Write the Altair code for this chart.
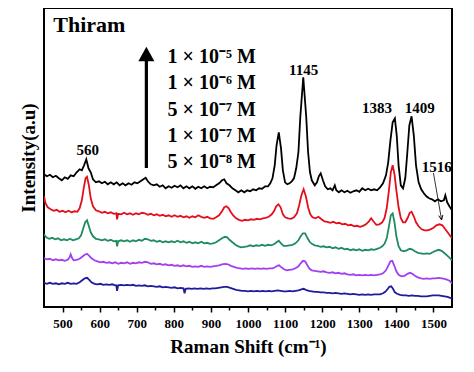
import altair as alt
import pandas as pd

# ---------------- data ----------------
series_names = ["1 × 10⁻⁵ M", "1 × 10⁻⁶ M", "5 × 10⁻⁷ M", "1 × 10⁻⁷ M", "5 × 10⁻⁸ M"]
series_colors = ["#000000", "#e3101c", "#1f8c5f", "#a040f0", "#1c1c9c"]

black_shift = [450,458,466,474,482,490,498,506,514,522,530,538,546,552,558,564,570,576,582,590,598,606,614,622,630,638,646,654,662,670,678,686,694,702,710,718,724,730,738,746,754,762,770,778,786,794,802,810,818,826,834,842,850,858,866,874,882,890,898,906,914,922,930,936,942,950,958,966,974,982,990,998,1006,1014,1022,1030,1038,1046,1054,1060,1066,1072,1077,1083,1089,1094,1100,1106,1112,1118,1124,1130,1136,1141,1149,1157,1162,1167,1172,1180,1186,1191,1196,1202,1208,1215,1222,1228,1234,1238,1245,1252,1260,1268,1276,1284,1292,1300,1308,1316,1324,1332,1340,1348,1356,1364,1372,1378,1384,1390,1396,1401,1406,1412,1418,1424,1429,1435,1441,1447,1453,1460,1467,1474,1481,1488,1496,1504,1512,1520,1528,1532,1537,1543,1550]
black_int = [132.7,130.7,132.2,129.7,131.2,128.7,126.7,129.7,128.2,131.7,130.7,134.7,137.7,136.7,141.7,147.7,138.7,134.7,127.7,124.7,125.7,123.7,125.2,122.7,124.7,122.7,124.7,121.7,123.7,121.7,123.7,122.2,124.7,123.7,125.7,127.7,129.2,125.7,122.7,121.7,122.7,120.2,121.7,118.7,120.7,119.2,121.2,119.7,121.7,118.7,120.7,118.7,120.7,118.2,120.2,118.7,120.7,118.7,120.2,119.7,121.7,123.7,126.7,127.7,123.7,121.7,118.7,116.7,114.7,116.7,114.7,116.7,115.7,117.7,116.7,118.7,118.2,120.7,120.7,123.7,128.7,141.7,161.7,174.7,158.7,136.7,124.7,122.7,123.7,125.7,128.7,138.7,155.0,190.0,229.7,190.0,155.0,135.0,126.7,121.7,124.7,130.7,133.7,126.7,120.7,117.7,118.7,116.7,121.7,116.7,114.7,116.7,114.7,116.2,114.2,115.7,116.7,115.2,118.7,116.7,118.2,116.7,117.7,116.7,119.7,123.7,131.7,144.7,166.7,184.7,188.7,171.7,141.7,121.7,118.7,128.7,151.7,181.7,190.7,171.7,141.7,124.7,117.7,113.7,110.7,108.7,107.7,105.7,107.7,105.7,106.7,111.7,104.7,100.7,96.7]

red_shift = [450,454,460,468,476,484,492,500,508,516,524,532,540,546,552,557,562,566,571,576,582,590,598,606,614,622,630,638,645,647,650,658,666,674,682,690,698,706,714,722,730,738,746,754,762,770,778,786,794,802,810,818,826,834,842,850,858,866,874,882,890,898,906,914,922,930,936,942,948,954,960,968,976,984,992,1000,1008,1016,1024,1032,1040,1048,1056,1064,1070,1076,1082,1088,1094,1100,1108,1116,1124,1132,1138,1144,1150,1156,1162,1168,1174,1182,1190,1198,1206,1214,1222,1230,1238,1246,1254,1262,1270,1278,1286,1294,1302,1310,1318,1326,1332,1338,1346,1354,1362,1368,1374,1380,1385,1390,1395,1400,1406,1412,1418,1424,1430,1436,1441,1447,1453,1460,1468,1476,1484,1492,1500,1508,1516,1524,1532,1540,1546,1550]
red_int = [110.7,103.7,99.7,97.7,96.2,97.2,95.2,96.2,94.7,96.2,94.7,95.7,95.2,98.7,106.7,118.7,128.7,130.2,121.7,108.7,100.7,96.7,95.7,94.2,95.2,93.7,94.7,93.2,93.7,87.7,93.2,92.7,94.2,92.7,93.7,92.2,93.7,92.7,94.2,93.7,92.2,93.2,91.7,92.7,91.2,92.2,90.7,91.7,90.2,91.7,90.2,91.2,89.7,90.7,89.2,90.7,89.7,91.7,90.2,89.2,90.2,88.7,88.2,89.7,91.7,95.7,99.7,100.7,98.7,94.7,91.7,88.7,87.2,86.2,87.2,86.7,87.7,87.2,88.2,87.7,88.7,89.2,90.2,92.7,95.7,100.7,102.7,99.7,92.7,89.7,88.7,88.2,89.7,93.7,101.7,111.7,117.7,110.7,99.7,92.7,89.7,88.7,90.2,87.7,85.7,85.2,84.2,85.2,83.7,84.2,82.7,83.2,81.7,82.2,80.7,81.2,80.2,81.2,82.7,85.7,88.7,85.7,82.2,82.7,84.7,88.7,98.7,116.7,134.7,141.7,132.7,116.7,99.7,88.7,84.7,84.7,88.7,94.2,95.2,90.7,84.7,80.7,77.7,76.7,76.7,77.7,79.2,81.7,82.7,81.7,77.7,73.7,70.7,68.7]

green_shift = [450,456,464,472,480,488,496,504,512,520,528,536,544,550,556,561,566,571,576,582,590,598,606,614,622,630,638,645,647,650,658,666,674,682,690,698,706,714,722,730,738,746,754,762,770,778,786,794,802,810,818,826,834,842,850,858,866,874,882,890,898,906,914,922,930,938,944,950,958,966,974,982,990,998,1006,1014,1022,1030,1038,1046,1054,1062,1070,1077,1083,1089,1096,1104,1112,1120,1128,1136,1142,1148,1154,1160,1166,1172,1180,1188,1196,1204,1212,1220,1228,1236,1244,1252,1260,1268,1276,1284,1292,1300,1308,1316,1324,1332,1340,1348,1356,1362,1368,1374,1380,1385,1390,1395,1400,1406,1412,1420,1428,1436,1442,1450,1458,1466,1474,1482,1490,1498,1506,1514,1522,1530,1538,1545,1550]
green_int = [72.7,69.7,68.2,69.2,67.7,68.7,66.7,67.7,66.7,68.2,66.7,67.7,68.7,71.7,78.7,84.7,86.7,80.7,74.7,70.7,68.2,67.7,66.7,67.7,66.2,67.2,65.7,66.2,60.7,65.7,66.7,65.7,66.7,65.2,66.7,65.7,67.2,66.2,68.2,67.7,66.2,66.7,65.2,66.2,64.7,65.7,64.7,65.7,64.7,66.2,64.7,65.7,64.2,65.2,63.7,64.7,63.7,65.2,63.7,64.2,63.2,63.7,64.7,66.7,68.7,70.2,69.7,67.2,64.7,62.2,60.7,59.7,60.2,60.7,61.7,60.7,61.7,61.2,62.2,61.2,62.2,61.7,62.7,64.7,66.2,63.7,61.2,61.2,61.7,62.2,63.7,66.7,70.7,73.7,73.7,69.2,65.2,63.2,61.7,61.2,60.2,60.7,59.7,60.2,58.7,59.7,58.2,59.2,57.7,58.2,56.7,57.7,56.7,57.7,56.2,57.2,56.7,57.7,57.2,58.2,59.2,60.7,63.2,68.7,80.7,91.7,93.7,84.7,70.7,60.7,56.7,55.7,56.7,58.2,57.7,55.7,54.2,53.7,53.2,53.7,53.2,54.7,56.2,57.2,56.2,53.7,51.2,48.7,46.7]

purple_shift = [450,458,466,474,482,490,498,506,514,519,522,526,530,538,546,553,560,566,572,578,586,594,602,610,618,626,634,642,650,658,666,674,682,690,698,706,714,722,730,738,746,754,762,770,778,786,794,802,810,818,826,834,842,850,858,866,874,882,890,898,906,914,922,930,938,946,954,962,970,978,986,994,1002,1010,1018,1026,1034,1042,1050,1058,1066,1073,1079,1084,1090,1097,1104,1112,1120,1128,1136,1142,1148,1154,1160,1166,1172,1180,1188,1196,1204,1212,1220,1228,1236,1244,1252,1260,1268,1276,1284,1292,1300,1308,1316,1324,1332,1340,1348,1356,1364,1372,1378,1384,1389,1394,1400,1406,1414,1422,1430,1437,1443,1450,1458,1466,1474,1482,1490,1498,1506,1514,1522,1530,1538,1545,1550]
purple_int = [48.7,47.7,48.2,46.7,47.7,46.7,47.2,46.2,47.2,49.7,52.7,48.7,46.7,47.2,48.2,50.2,52.2,53.2,51.2,48.7,46.7,45.7,44.7,45.2,44.2,44.7,43.7,44.7,43.2,44.2,43.7,44.7,43.2,44.2,43.7,44.7,44.2,45.2,44.7,43.2,43.7,42.7,43.2,42.2,42.7,41.7,42.2,41.2,41.7,40.7,41.7,40.7,41.2,40.2,40.7,40.2,41.2,40.2,40.7,40.2,40.7,41.2,41.7,42.7,43.2,42.7,41.2,40.2,39.2,38.7,38.2,38.7,38.2,38.7,38.2,38.7,38.2,38.7,38.2,38.7,38.7,39.7,41.2,41.7,39.7,37.7,36.7,37.2,37.7,38.7,40.7,43.7,46.2,45.7,41.7,38.2,36.7,36.2,35.7,35.2,35.7,34.7,34.2,34.7,33.7,34.2,33.2,33.7,32.7,32.2,32.7,31.7,32.2,31.7,32.2,31.7,32.2,31.7,32.2,32.7,33.7,36.7,41.2,45.7,46.2,41.7,35.7,32.2,30.7,31.2,33.2,34.2,33.2,31.2,29.7,28.7,28.2,28.7,28.2,28.7,28.7,29.2,28.7,28.2,27.2,25.7,23.7]

blue_shift = [450,458,466,474,482,490,498,506,514,522,530,538,546,553,560,566,572,578,586,594,602,610,618,626,634,642,645,647,650,658,666,674,682,690,698,706,714,722,730,738,746,754,762,770,778,786,794,802,810,818,826,829,832,840,848,856,864,872,880,888,896,904,912,920,928,936,944,952,960,968,976,984,992,1000,1008,1016,1024,1032,1040,1048,1056,1064,1072,1080,1088,1096,1104,1112,1120,1128,1136,1144,1150,1156,1164,1172,1180,1188,1196,1204,1212,1220,1228,1236,1244,1252,1260,1268,1276,1284,1292,1300,1308,1316,1324,1332,1340,1348,1356,1364,1370,1376,1381,1386,1391,1396,1402,1410,1418,1426,1434,1442,1450,1458,1466,1474,1482,1490,1498,1506,1514,1522,1530,1538,1545,1550]
blue_int = [24.2,23.2,24.2,23.2,23.7,22.7,23.7,23.2,24.2,23.2,23.7,23.2,24.7,26.7,28.7,29.2,27.2,24.7,23.2,22.7,23.2,22.2,22.7,22.2,22.7,21.7,21.7,16.2,21.7,22.2,21.7,22.2,21.7,22.2,21.2,21.7,21.2,21.7,20.7,21.2,20.7,20.2,20.7,19.7,20.2,19.7,19.2,19.7,18.7,19.2,18.7,13.7,18.2,18.7,18.2,18.7,18.2,18.7,18.2,18.7,18.2,18.7,18.7,19.2,19.7,20.2,20.2,19.2,18.2,17.2,16.7,16.2,16.2,15.7,16.2,15.7,16.2,15.7,16.2,15.7,16.2,15.7,16.2,16.7,16.2,15.7,15.7,16.2,15.7,16.2,16.7,17.7,18.2,17.2,16.2,15.7,15.2,15.2,14.7,14.7,14.2,14.2,13.7,14.2,13.7,13.2,13.7,13.2,12.7,13.2,12.7,12.2,12.7,12.2,12.7,12.2,12.7,12.7,12.7,13.7,15.2,17.7,20.2,20.7,18.2,14.7,13.2,12.2,11.7,11.7,11.2,11.7,11.2,11.2,10.7,10.7,10.7,11.2,11.7,11.7,11.7,11.2,10.7,10.2,9.2,8.2]

peak_text = ["560", "1145", "1383", "1409", "1516"]
peak_text_x = [568, 1150, 1348, 1463, 1509]
peak_text_y = [157, 237, 199, 199, 140]

conc_text_x = 783
conc_text_y = [250, 224, 197, 171, 145]

x_ticks = list(range(500, 1501, 50))

# ---------------- build table ----------------
shifts = [black_shift, red_shift, green_shift, purple_shift, blue_shift]
ints = [black_int, red_int, green_int, purple_int, blue_int]
rows = []
for order, (name, xs, ys) in enumerate(zip(series_names, shifts, ints)):
    assert len(xs) == len(ys), (name, len(xs), len(ys))
    for a, b in zip(xs, ys):
        rows.append({"series": name, "order": order, "shift": a, "intensity": b})
spec_df = pd.DataFrame(rows)

FONT = "Liberation Serif"
xscale = alt.Scale(domain=[450, 1550], nice=False, zero=False)
yscale = alt.Scale(domain=[0, 299], nice=False, zero=False)
xaxis = alt.Axis(
    title="Raman Shift (cm⁻¹)", values=x_ticks, grid=False, domain=False, format="d",
    labelExpr="datum.value % 100 === 0 ? datum.label : ''",
    tickSize={"condition": {"test": "datum.value % 100 === 0", "value": 5}, "value": 3},
    tickColor="black", tickWidth=1.5, labelFont=FONT, labelFontSize=13,
    labelFontWeight="bold", labelColor="black", labelPadding=5,
    titleFont=FONT, titleFontSize=19, titleFontWeight="bold", titleColor="black",
    titlePadding=7, labelFlush=False,
)
yaxis = alt.Axis(
    title="Intensity(a.u)", labels=False, ticks=False, domain=False, grid=False,
    titleFont=FONT, titleFontSize=19, titleFontWeight="bold", titleColor="black",
    titlePadding=6,
)
X = alt.X("shift:Q", scale=xscale, axis=xaxis)
Y = alt.Y("intensity:Q", scale=yscale, axis=yaxis)

lines = alt.Chart(spec_df).mark_line(strokeWidth=1.8, clip=True).encode(
    x=X, y=Y,
    color=alt.Color("series:N", scale=alt.Scale(domain=series_names, range=series_colors), legend=None),
    detail="series:N",
    order=alt.Order("shift:Q"),
)

peak_df = pd.DataFrame({"shift": peak_text_x, "intensity": peak_text_y, "label": peak_text})
peaks = alt.Chart(peak_df).mark_text(font=FONT, fontSize=15, fontWeight="bold", color="black",
                                     baseline="middle", align="center").encode(x=X, y=Y, text="label:N")

conc_df = pd.DataFrame({"shift": [conc_text_x] * 5, "intensity": conc_text_y, "label": series_names})
conc = alt.Chart(conc_df).mark_text(font=FONT, fontSize=20, fontWeight="bold", color="black",
                                    baseline="middle", align="left").encode(x=X, y=Y, text="label:N")

title_df = pd.DataFrame({"shift": [475], "intensity": [282], "label": ["Thiram"]})
title_txt = alt.Chart(title_df).mark_text(font=FONT, fontSize=22, fontWeight="bold", color="black",
                                          baseline="middle", align="left").encode(x=X, y=Y, text="label:N")

arrow_df = pd.DataFrame({"shift": [726], "intensity": [139], "intensity2": [246]})
arrow_line = alt.Chart(arrow_df).mark_rule(strokeWidth=3.2, color="black").encode(
    x=X, y=Y, y2="intensity2:Q")
head_df = pd.DataFrame({"shift": [726], "intensity": [253]})
arrow_head = alt.Chart(head_df).mark_point(
    shape="M0,-0.9L-1,0.9L1,0.9Z", size=256, filled=True, color="black", opacity=1, strokeWidth=0
).encode(x=X, y=Y)

call_df = pd.DataFrame({"shift": [1500], "intensity": [134], "shift2": [1522], "intensity2": [87]})
call_line = alt.Chart(call_df).mark_rule(strokeWidth=0.8, color="black").encode(
    x=X, y=Y, x2="shift2:Q", y2="intensity2:Q")
call_head_df = pd.DataFrame({"shift": [1522], "intensity": [87]})
call_head = alt.Chart(call_head_df).mark_point(
    shape="M-0.7,-1.6L0,0L0.7,-1.6", size=36, filled=False, color="black", strokeWidth=0.9,
    angle=350, opacity=1
).encode(x=X, y=Y)

chart = alt.layer(lines, arrow_line, arrow_head, call_line, call_head, peaks, conc, title_txt).properties(
    width=408, height=299,
    padding={"left": 36, "top": 0, "right": 14, "bottom": 55},
    autosize=alt.AutoSizeParams(type="none"),
    background="white",
).configure_view(stroke="black", strokeWidth=2)

chart.save("out.html", embed_options={"renderer": "svg", "actions": False})
